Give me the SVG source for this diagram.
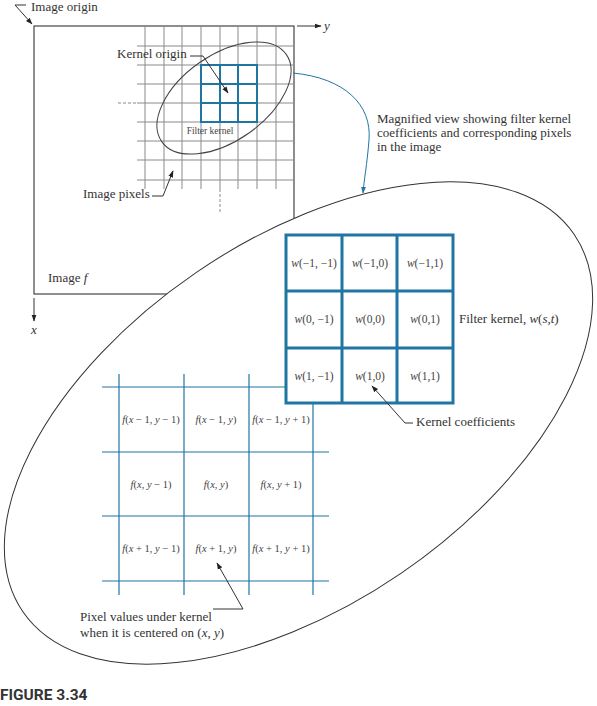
<svg xmlns="http://www.w3.org/2000/svg" width="597" height="706" viewBox="0 0 597 706">
<style>
.t{font-family:"Liberation Serif","DejaVu Serif",serif;fill:#333;font-size:13px}
.s{font-family:"Liberation Serif","DejaVu Serif",serif;fill:#444;font-size:10.5px}
.k{font-family:"Liberation Serif","DejaVu Serif",serif;fill:#444;font-size:11.5px}
.fk{font-family:"Liberation Serif","DejaVu Serif",serif;fill:#444;font-size:9.5px}
.g{stroke:#8a8a8a;stroke-width:1;fill:none}
.ln{stroke:#333;stroke-width:1;fill:none}
.bl{stroke:#1f76a3;fill:none}
</style>
<defs>
<marker id="ah" viewBox="0 0 10 10" refX="9" refY="5" markerWidth="7" markerHeight="7" orient="auto" markerUnits="userSpaceOnUse"><path d="M0,1.5 L10,5 L0,8.5 Z" fill="#222"/></marker>
<marker id="ahb" viewBox="0 0 10 10" refX="9" refY="5" markerWidth="7" markerHeight="7" orient="auto" markerUnits="userSpaceOnUse"><path d="M0,1.5 L10,5 L0,8.5 Z" fill="#1f76a3"/></marker>
</defs>
<rect width="597" height="706" fill="#fff"/>

<g id="image">
<rect x="34" y="26" width="260" height="268" fill="none" stroke="#444" stroke-width="1.2"/>
<g class="g">
<path d="M145,26V189M164,26V189M182,26V189M201,26V189M220,26V189M238,26V189M257,26V189M276,26V189"/>
<path d="M137,46H294M137,65H294M137,84H294M137,103H294M137,122H294M137,141H294M137,160H294M137,180H294"/>
<path d="M118,103H137M220,189V213" stroke-dasharray="3,2"/>
</g>
<text class="t" x="48" y="282">Image <tspan font-style="italic">f</tspan></text>
</g>

<g id="axes">
<path class="ln" d="M297,26H321" marker-end="url(#ah)"/>
<text class="t" x="324" y="30" font-style="italic">y</text>
<path class="ln" d="M34,298V321" marker-end="url(#ah)"/>
<text class="t" x="31" y="334" font-style="italic">x</text>
</g>

<g id="small-kernel">
<rect class="bl" x="201" y="65" width="56" height="57" stroke-width="2"/>
<path class="bl" stroke-width="2" d="M220,65V122M238,65V122M201,84H257M201,103H257"/>
<text class="fk" x="210" y="134" text-anchor="middle">Filter kernel</text>
</g>

<g id="small-ellipse">
<ellipse cx="224" cy="98" rx="76" ry="43" transform="rotate(-35 224 98)" fill="none" stroke="#444" stroke-width="1"/>
</g>

<g id="big-ellipse">
<ellipse cx="298.5" cy="423" rx="334" ry="182" transform="rotate(-34.4 298.5 423)" fill="#fff" stroke="#333" stroke-width="1"/>
</g>

<g id="pixel-grid">
<path class="bl" stroke-width="1.2" d="M119,374V595M184,374V595M249,374V595M313,374V595M102,387H329M102,452H329M102,516H329M102,581H329"/>
<g class="s" text-anchor="middle">
<text x="151" y="423"><tspan font-style="italic">f</tspan>(<tspan font-style="italic">x</tspan> − 1, <tspan font-style="italic">y</tspan> − 1)</text>
<text x="216" y="423"><tspan font-style="italic">f</tspan>(<tspan font-style="italic">x</tspan> − 1, <tspan font-style="italic">y</tspan>)</text>
<text x="281" y="423"><tspan font-style="italic">f</tspan>(<tspan font-style="italic">x</tspan> − 1, <tspan font-style="italic">y</tspan> + 1)</text>
<text x="151" y="488"><tspan font-style="italic">f</tspan>(<tspan font-style="italic">x</tspan>, <tspan font-style="italic">y</tspan> − 1)</text>
<text x="216" y="488"><tspan font-style="italic">f</tspan>(<tspan font-style="italic">x</tspan>, <tspan font-style="italic">y</tspan>)</text>
<text x="281" y="488"><tspan font-style="italic">f</tspan>(<tspan font-style="italic">x</tspan>, <tspan font-style="italic">y</tspan> + 1)</text>
<text x="151" y="552"><tspan font-style="italic">f</tspan>(<tspan font-style="italic">x</tspan> + 1, <tspan font-style="italic">y</tspan> − 1)</text>
<text x="216" y="552"><tspan font-style="italic">f</tspan>(<tspan font-style="italic">x</tspan> + 1, <tspan font-style="italic">y</tspan>)</text>
<text x="281" y="552"><tspan font-style="italic">f</tspan>(<tspan font-style="italic">x</tspan> + 1, <tspan font-style="italic">y</tspan> + 1)</text>
</g>
</g>

<g id="big-kernel">
<rect x="286" y="235" width="167" height="168" fill="#fff" stroke="#1f76a3" stroke-width="3"/>
<path class="bl" stroke-width="3" d="M342,235V403M397,235V403M286,291H453M286,348H453"/>
<g class="k" text-anchor="middle">
<text x="314" y="267"><tspan font-style="italic">w</tspan>(−1, −1)</text>
<text x="370" y="267"><tspan font-style="italic">w</tspan>(−1,0)</text>
<text x="425" y="267"><tspan font-style="italic">w</tspan>(−1,1)</text>
<text x="314" y="323"><tspan font-style="italic">w</tspan>(0, −1)</text>
<text x="370" y="323"><tspan font-style="italic">w</tspan>(0,0)</text>
<text x="425" y="323"><tspan font-style="italic">w</tspan>(0,1)</text>
<text x="314" y="380"><tspan font-style="italic">w</tspan>(1, −1)</text>
<text x="370" y="380"><tspan font-style="italic">w</tspan>(1,0)</text>
<text x="425" y="380"><tspan font-style="italic">w</tspan>(1,1)</text>
</g>
</g>

<g id="labels">
<text class="t" x="31" y="10.5">Image origin</text>
<text class="t" x="117" y="58">Kernel origin</text>
<text class="t" x="83" y="198">Image pixels</text>
<text class="t" x="377" y="123">Magnified view showing filter kernel</text>
<text class="t" x="377" y="137">coefficients and corresponding pixels</text>
<text class="t" x="377" y="151">in the image</text>
<text class="t" x="459" y="323">Filter kernel, <tspan font-style="italic">w</tspan>(<tspan font-style="italic">s</tspan>,<tspan font-style="italic">t</tspan>)</text>
<text class="t" x="416" y="426">Kernel coefficients</text>
<text class="t" x="80" y="621">Pixel values under kernel</text>
<text class="t" x="80" y="637">when it is centered on (<tspan font-style="italic">x</tspan>, <tspan font-style="italic">y</tspan>)</text>
<text x="0" y="700" font-family="Roboto,'Liberation Sans',sans-serif" font-weight="bold" font-size="15.5" fill="#333">FIGURE 3.34</text>
</g>

<g id="connectors">
<path class="ln" d="M26,5H15L32,24" marker-end="url(#ah)"/>
<path class="ln" d="M190,56H203L228,93" marker-end="url(#ah)"/>
<path class="ln" d="M152,196H163L173,171" marker-end="url(#ah)"/>
<path d="M293,73C345,78 372,105 369,140C367,165 364,180 363,193" stroke="#1f76a3" stroke-width="1" fill="none" marker-end="url(#ahb)"/>
<path class="ln" d="M413,423H405L372,386" marker-end="url(#ah)"/>
<path class="ln" d="M213,609H243L217,563" marker-end="url(#ah)"/>
</g>
</svg>
